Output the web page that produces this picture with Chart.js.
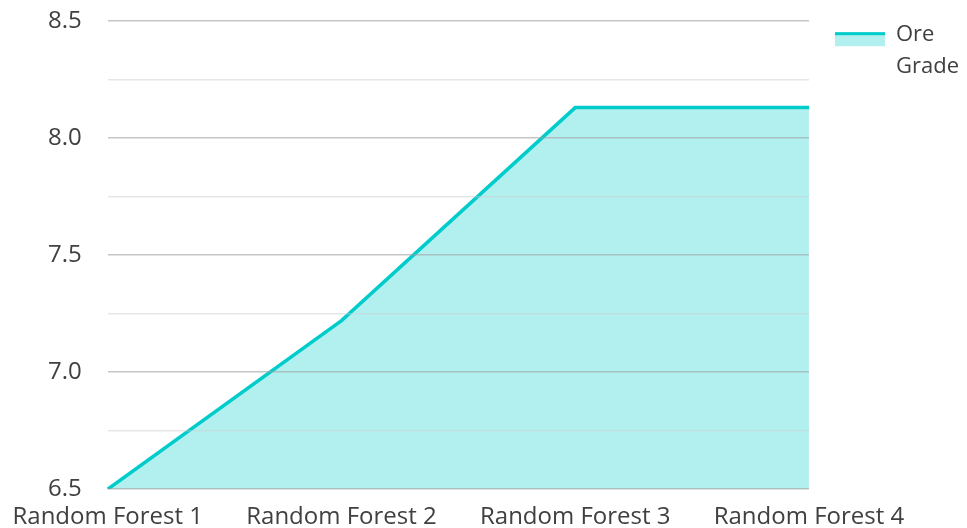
<!DOCTYPE html>
<html>
<head>
<meta charset="utf-8">
<script src="https://cdn.jsdelivr.net/npm/chart.js@4.4.0/dist/chart.umd.min.js"></script>
<style>
  html, body { margin: 0; padding: 0; background: #fff; }
  #wrap { width: 967px; height: 528px; }
</style>
</head>
<body>
<div id="wrap"><canvas id="oreChart"></canvas></div>
<script>
// values
const models = ["Random Forest 1", "Random Forest 2", "Random Forest 3", "Random Forest 4"];
const oreGrade = [6.5, 7.22, 8.13, 8.13];
const seriesName = ["Ore", "Grade"];
const yMin = 6.5, yMax = 8.5, yStep = 0.25;

const lineColor = "rgb(0, 204, 204)";
const fillColor = "rgba(0, 204, 204, 0.3)";
const textColor = "#404040";

Chart.defaults.font.family = "'Open Sans', sans-serif";
Chart.defaults.color = textColor;

// legend swatch: light fill with a thick line on top
const swatch = {
  id: "swatch",
  afterDraw(chart) {
    const lg = chart.legend;
    if (!lg || !lg.legendHitBoxes) return;
    const ctx = chart.ctx;
    lg.legendHitBoxes.forEach(function (box) {
      ctx.save();
      ctx.fillStyle = fillColor;
      ctx.fillRect(box.left, box.top + 8, 50, 14);
      ctx.fillStyle = lineColor;
      ctx.fillRect(box.left, box.top + 8, 50, 3);
      ctx.restore();
    });
  }
};

new Chart(document.getElementById("oreChart").getContext("2d"), {
  type: "line",
  data: {
    labels: models,
    datasets: [{
      label: seriesName.join(" "),
      data: oreGrade,
      borderColor: lineColor,
      backgroundColor: fillColor,
      borderWidth: 3.5,
      fill: "start",
      tension: 0,
      pointRadius: 0
    }]
  },
  options: {
    responsive: true,
    maintainAspectRatio: false,
    animation: false,
    layout: { padding: { top: 21, right: -2, bottom: -4, left: 48 } },
    plugins: {
      tooltip: { enabled: false },
      legend: {
        position: "right",
        align: "start",
        title: { display: true, text: "", font: { size: 1 }, padding: { top: -24, bottom: 0 } },
        labels: {
          boxWidth: 50,
          boxHeight: 13,
          padding: 26,
          font: { size: 22, lineHeight: 1.45 },
          color: textColor,
          generateLabels: function (chart) {
            return [{
              text: seriesName,
              fillStyle: "rgba(0,0,0,0)",
              strokeStyle: "rgba(0,0,0,0)",
              lineWidth: 0,
              fontColor: textColor,
              datasetIndex: 0
            }];
          }
        }
      }
    },
    scales: {
      x: {
        grid: { display: false, drawTicks: true, tickLength: 14, tickColor: "rgba(0,0,0,0)" },
        border: { display: false },
        offset: false,
        ticks: { font: { size: 24 }, padding: 0, maxRotation: 0, color: textColor }
      },
      y: {
        min: yMin,
        max: yMax,
        border: { display: false },
        grid: {
          z: 1,
          drawTicks: true,
          tickLength: 26,
          tickColor: "rgba(0,0,0,0)",
          lineWidth: 1.5,
          color: function (c) {
            const v = c.tick ? c.tick.value : 0;
            return Math.abs(v * 2 - Math.round(v * 2)) < 1e-6 ? "rgba(160,160,160,0.6)" : "rgba(200,200,200,0.45)";
          }
        },
        ticks: {
          stepSize: yStep,
          padding: 0,
          font: { size: 24 },
          color: textColor,
          callback: function (v) {
            return Math.abs(v * 2 - Math.round(v * 2)) < 1e-6 ? v.toFixed(1) : "";
          }
        }
      }
    }
  },
  plugins: [swatch]
});
</script>
</body>
</html>
